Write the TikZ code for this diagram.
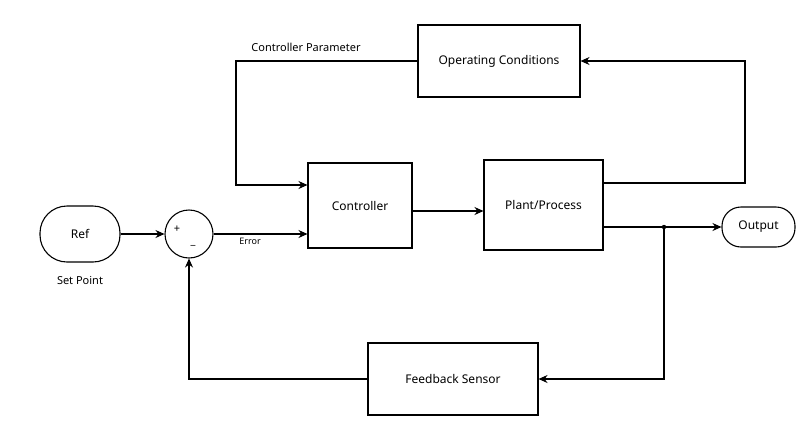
\documentclass[tikz,border=0pt]{standalone}
\usepackage{fontspec}
\setmainfont{Noto Sans}
\usetikzlibrary{arrows.meta}
\begin{document}
\begin{tikzpicture}[x=1pt,y=-1pt,
  blk/.style={draw,line width=1.1pt,inner sep=0pt,font=\fontsize{12}{14}\selectfont},
  pill/.style={draw,line width=1.1pt,inner sep=0pt,font=\fontsize{12}{14}\selectfont},
  ln/.style={line width=1.1pt},
  ar/.style={line width=1.1pt,-{Stealth[length=9pt,width=8pt]}},
  lbl/.style={font=\fontsize{11}{13}\selectfont}]
\useasboundingbox (0,0) rectangle (810,426);
\node[pill,minimum width=80pt,minimum height=56pt,rounded corners=27pt] (ref) at (80,234) {Ref};
\node[lbl] (sp) at (80,280) {Set Point};
\node[draw,circle,line width=1.1pt,minimum size=48pt,inner sep=0pt] (sum) at (189,234) {};
\node[lbl] (plus) at (177,229) {+};
\node[lbl] (minus) at (193,245) {\textbf{\_}};
\node[blk,minimum width=104pt,minimum height=85pt] (ctrl) at (360,205.5) {Controller};
\node[blk,minimum width=119pt,minimum height=90pt] (plant) at (543.5,205) {Plant/Process};
\node[blk,minimum width=162pt,minimum height=72pt] (op) at (499,61) {Operating Conditions};
\node[blk,minimum width=170pt,minimum height=72pt] (fb) at (453,379) {Feedback Sensor};
\node[pill,minimum width=73pt,minimum height=40pt,rounded corners=19pt] (out) at (758.5,227) {Output};
\node[lbl] (err) at (250,241) {\fontsize{9}{11}\selectfont Error};
\node[lbl] (cp) at (306,47) {Controller Parameter};
\coordinate (j) at (664,227);
\fill (j) circle (2.2pt);
\draw[ar] (ref.east) -- (sum.west);
\draw[ar] (sum.east) -- (sum.east -| ctrl.west) coordinate (ce);
\draw[ar] (ctrl.east |- 0,211) -- (plant.west |- 0,211);
\draw[ar] (plant.east |- 0,183) -- (745,183) -- (745,61) -- (op.east);
\draw[ar] (op.west) -- (236,61) -- (236,185) -- (ctrl.west |- 0,185);
\draw[ar] (plant.east |- j) -- (out.west);
\draw[ar] (j) -- (664,379) -- (fb.east);
\draw[ar] (fb.west) -- (189,379) -- (sum.south);
\end{tikzpicture}
\end{document}
